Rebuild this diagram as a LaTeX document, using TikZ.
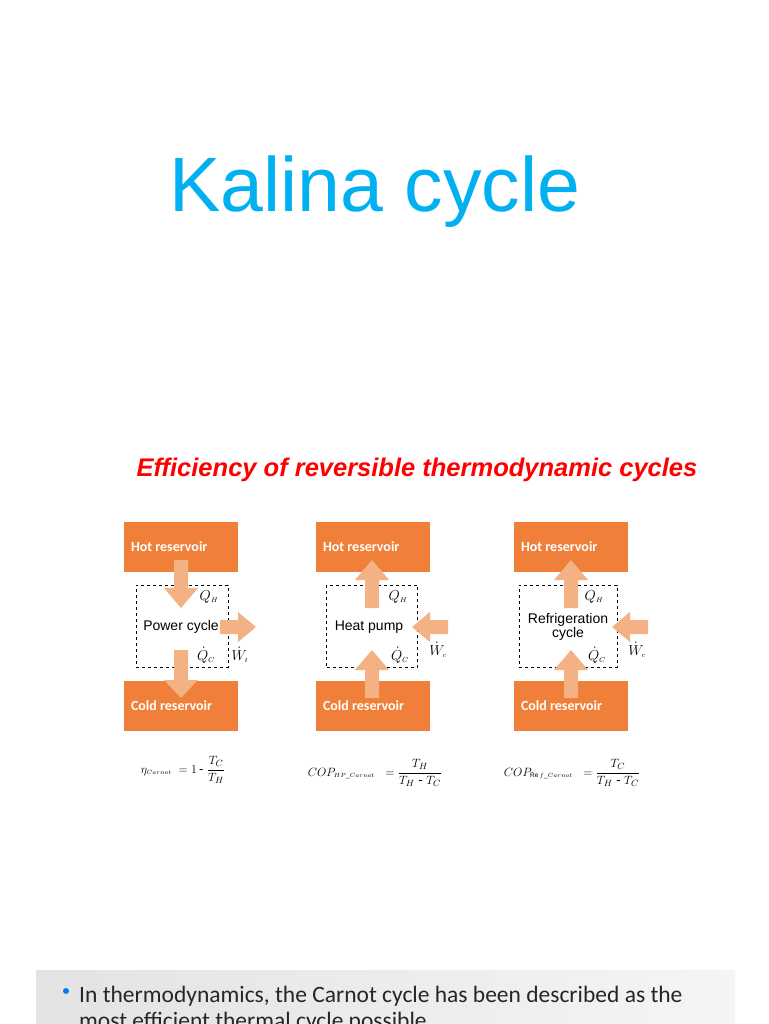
\documentclass[tikz,border=0pt]{standalone}
\usepackage{amsmath}
\usepackage{fontspec}
\setmainfont{Liberation Sans}
\newfontfamily\carl{Carlito}
\newfontfamily\tms{Liberation Serif}
\usetikzlibrary{shapes.arrows}
\definecolor{res}{HTML}{F07F3A}
\definecolor{arr}{HTML}{F4B183}
\definecolor{ttl}{HTML}{00B0F0}
\begin{document}
\begin{tikzpicture}[x=1pt,y=-1pt,
 resbox/.style={fill=res,minimum width=114pt,minimum height=50pt,inner sep=0pt},
 cyc/.style={draw,dashed,thick,minimum height=82pt},
 fat/.style={fill=arr,draw=none},
 rl/.style={text=white,font=\carl\bfseries\fontsize{14}{16}\selectfont,anchor=west,inner sep=0pt},
 ct/.style={font=\fontsize{14}{16}\selectfont,align=center,inner sep=1pt},
 lbl/.style={font=\fontsize{14}{16}\selectfont,inner sep=0pt},
 fm/.style={font=\fontsize{13}{15}\selectfont}]
\useasboundingbox (0,0) rectangle (768,1024);
\node[text=ttl,font=\fontsize{77}{80}\selectfont] (title) at (375,192) {Kalina cycle};
\node[text=red,font=\bfseries\itshape\fontsize{25.5}{28}\selectfont] (sub) at (417,470) {Efficiency of reversible thermodynamic cycles};
\foreach \n/\hx/\dx/\dw in {a/181/182/92, b/373/372/91, c/571/568/98}{
 \node[cyc,minimum width=\dw pt] (d\n) at (\dx,626) {};
 \node[resbox] (h\n) at (\hx,547) {};
 \node[resbox] (k\n) at (\hx,706) {};
 \node[rl] (hl\n) at ([xshift=7pt]h\n.west) {Hot reservoir};
 \node[rl] (kl\n) at ([xshift=7pt]k\n.west) {Cold reservoir};
}
\fill[fat] (174,560)--(188,560)--(188,588)--(198,588)--(181,608)--(164,588)--(174,588)--cycle;
\fill[fat] (174,650)--(188,650)--(188,680)--(198,680)--(181,698)--(164,680)--(174,680)--cycle;
\fill[fat] (220,620)--(238,620)--(238,612)--(256,627)--(238,642)--(238,634)--(220,634)--cycle;
\fill[fat] (365,608)--(379,608)--(379,580)--(389,580)--(372,560)--(355,580)--(365,580)--cycle;
\fill[fat] (365,698)--(379,698)--(379,670)--(389,670)--(372,650)--(355,670)--(365,670)--cycle;
\fill[fat] (448,620)--(430,620)--(430,612)--(412,627)--(430,642)--(430,634)--(448,634)--cycle;
\fill[fat] (564,608)--(578,608)--(578,580)--(588,580)--(571,560)--(554,580)--(564,580)--cycle;
\fill[fat] (564,698)--(578,698)--(578,670)--(588,670)--(571,650)--(554,670)--(564,670)--cycle;
\fill[fat] (648,620)--(630,620)--(630,612)--(612,627)--(630,642)--(630,634)--(648,634)--cycle;
\node[ct] (ta) at (181,627) {Power cycle};
\node[ct] (tb) at (369,627) {Heat pump};
\node[ct] (tc) at (568,627) {Refrigeration\\[-2pt]cycle};
\node[lbl] (qa) at (209,597) {$Q_{\scriptscriptstyle H}$};
\node[lbl] (qca) at (206,655) {$\dot Q_{\scriptscriptstyle C}$};
\node[lbl] (wa) at (240,655) {$\dot W_{\scriptscriptstyle t}$};
\node[lbl] (qb) at (398,597) {$Q_{\scriptscriptstyle H}$};
\node[lbl] (qcb) at (400,655) {$\dot Q_{\scriptscriptstyle C}$};
\node[lbl] (wb) at (438,650) {$\dot W_{\scriptscriptstyle c}$};
\node[lbl] (qc) at (594,597) {$Q_{\scriptscriptstyle H}$};
\node[lbl] (qcc) at (597,655) {$\dot Q_{\scriptscriptstyle C}$};
\node[lbl] (wc) at (637,650) {$\dot W_{\scriptscriptstyle c}$};
\node[fm] (fa) at (183,770) {$\eta_{\scriptscriptstyle Carnot}\ =1\,\text{-}\ \dfrac{T_C}{T_H}$};
\node[fm] (fb) at (375,773) {$COP_{\scriptscriptstyle HP\_Carnot}\ \ =\dfrac{T_H}{T_H\ \text{-}\ T_C}$};
\node[fm] (fc) at (572,773) {$COP_{\scriptscriptstyle \mathrm{Re}\,f\_Carnot}\ \ =\dfrac{T_C}{T_H\ \text{-}\ T_C}$};
\shade[left color=gray!22,right color=gray!8] (36,970) rectangle (735,1024);
\fill[ttl!70!blue] (66,991) circle (3pt);
\node[anchor=west,font=\carl\fontsize{23.5}{28}\selectfont,text=black!85,inner sep=0pt] (bt) at (79,996) {In thermodynamics, the Carnot cycle has been described as the};
\node[anchor=north west,font=\carl\fontsize{23.5}{28}\selectfont,text=black!85,inner sep=0pt] (bt2) at (79,1012) {most efficient thermal cycle possible.};
\end{tikzpicture}
\end{document}
